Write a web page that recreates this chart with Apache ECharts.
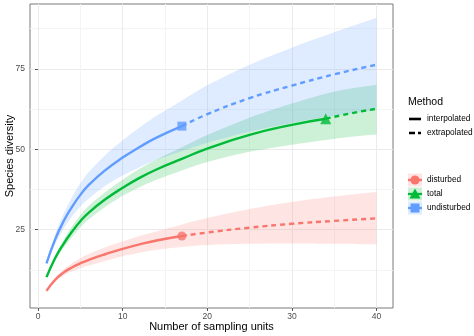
<!DOCTYPE html>
<html>
<head>
<meta charset="utf-8">
<script src="https://cdn.jsdelivr.net/npm/echarts@6/dist/echarts.min.js"></script>
<style>
html,body{margin:0;padding:0;background:#fff;}
#c{width:474px;height:336px;}
</style>
</head>
<body>
<div id="c"></div>
<script>
// ---- data ----
const groups = ['disturbed', 'total', 'undisturbed'];
const methods = ['interpolated', 'extrapolated'];
const xTicks = [0, 10, 20, 30, 40];
const xMinor = [5, 15, 25, 35];
const yTicks = [25, 50, 75];
const yMinor = [12.5, 37.5, 62.5, 87.5];

// disturbed / undisturbed : observed at 17 sampling units
const xInterpDU = [1, 2, 3, 4, 5, 6, 8, 10, 12, 14, 17];
const xExtrapDU = [17, 20, 25, 30, 35, 40];
const xBandDU = [1, 2, 3, 4, 5, 6, 8, 10, 12, 14, 17, 20, 25, 30, 35, 40];
// total : observed at 34 sampling units
const xInterpT = [1, 2, 3, 4, 5, 6, 8, 10, 12, 14, 17, 20, 25, 30, 34];
const xExtrapT = [34, 37, 40];
const xBandT = [1, 2, 3, 4, 5, 6, 8, 10, 12, 14, 17, 20, 25, 30, 34, 37, 40];

const disturbedInterp = [5.9, 9.3, 11.6, 13.2, 14.5, 15.6, 17.4, 19.0, 20.4, 21.6, 23.0];
const disturbedExtrap = [23.0, 24.1, 25.6, 26.8, 27.7, 28.5];
const disturbedLower = [5.6, 8.6, 10.6, 12.0, 13.0, 13.8, 15.3, 16.7, 17.8, 18.7, 19.6, 20.2, 20.6, 20.7, 20.6, 20.4];
const disturbedUpper = [6.2, 10.0, 12.6, 14.5, 16.1, 17.4, 19.5, 21.3, 23.0, 24.4, 26.6, 28.6, 31.4, 33.6, 35.3, 36.7];

const totalInterp = [10.2, 16.0, 20.5, 24.3, 27.6, 30.3, 34.5, 38.0, 41.1, 43.7, 47.0, 50.2, 54.5, 57.6, 59.5];
const totalExtrap = [59.5, 61.2, 62.6];
const totalLower = [9.9, 15.2, 19.3, 22.6, 25.7, 28.2, 32.2, 35.5, 38.2, 40.5, 43.4, 46.0, 49.2, 51.4, 52.9, 53.9, 54.6];
const totalUpper = [10.5, 16.8, 21.7, 26.0, 29.5, 32.4, 36.8, 40.5, 43.9, 46.8, 50.6, 54.4, 59.8, 64.2, 67.3, 68.9, 70.1];

const undisturbedInterp = [14.5, 21.8, 27.5, 32.0, 35.8, 38.9, 43.6, 47.4, 50.7, 53.6, 57.2];
const undisturbedExtrap = [57.2, 60.9, 65.9, 69.8, 73.3, 76.3];
const undisturbedLower = [14.0, 20.3, 25.2, 29.0, 32.2, 34.7, 38.7, 41.8, 44.4, 46.7, 49.4, 52.0, 55.5, 58.2, 60.4, 62.3];
const undisturbedUpper = [15.0, 23.3, 29.8, 35.0, 39.4, 42.9, 48.3, 52.8, 56.8, 60.4, 65.2, 69.9, 76.3, 81.6, 86.4, 90.9];

// observed reference points
const refX = [17, 34, 17];
const refY = [23.0, 59.5, 57.2];

// ---- styling ----
const colors = ['#F8766D', '#00BA38', '#619CFF'];
const bandColors = ['rgba(248,118,109,0.2)', 'rgba(0,186,56,0.2)', 'rgba(97,156,255,0.2)'];
const symbols = ['circle', 'triangle', 'rect'];
const symbolSizes = [9, 11, 9];
const FONT = '"Liberation Sans", Arial, Helvetica, sans-serif';

const zip = (xs, ys) => xs.map((x, i) => [x, ys[i]]);

const sets = [
  {ix: xInterpDU, iy: disturbedInterp, ex: xExtrapDU, ey: disturbedExtrap, bx: xBandDU, lo: disturbedLower, hi: disturbedUpper},
  {ix: xInterpT, iy: totalInterp, ex: xExtrapT, ey: totalExtrap, bx: xBandT, lo: totalLower, hi: totalUpper},
  {ix: xInterpDU, iy: undisturbedInterp, ex: xExtrapDU, ey: undisturbedExtrap, bx: xBandDU, lo: undisturbedLower, hi: undisturbedUpper}
];

const series = [];
sets.forEach((s, g) => {
  const bandData = s.bx.map((x, i) => [x, s.lo[i], s.hi[i]]);
  series.push({
    type: 'custom', name: groups[g] + ' band', silent: true, z: 1, clip: true,
    encode: {x: 0, y: [1, 2]},
    data: bandData,
    renderItem: function (params, api) {
      if (params.dataIndex !== 0) return null;
      const upper = bandData.map(d => api.coord([d[0], d[2]]));
      const lower = bandData.map(d => api.coord([d[0], d[1]])).reverse();
      // duplicate the end points so the smoothed outline keeps straight ends
      const pts = [upper[0]].concat(upper, [upper[upper.length - 1]], [lower[0]], lower, [lower[lower.length - 1]]);
      return {
        type: 'polygon',
        shape: {points: pts, smooth: 0.3},
        style: {fill: bandColors[g], stroke: null}
      };
    }
  });
});
sets.forEach((s, g) => {
  series.push({
    type: 'line', name: groups[g] + ' ' + methods[0],
    data: zip(s.ix, s.iy), symbol: 'none', smooth: 0.5,
    lineStyle: {color: colors[g], width: 2.4}, z: 3
  });
  series.push({
    type: 'line', name: groups[g] + ' ' + methods[1],
    data: zip(s.ex, s.ey), symbol: 'none', smooth: 0.5,
    lineStyle: {color: colors[g], width: 2.4, type: [5, 4]}, z: 3
  });
  series.push({
    type: 'scatter', name: groups[g] + ' observed',
    data: [[refX[g], refY[g]]], symbol: symbols[g], symbolSize: symbolSizes[g],
    itemStyle: {color: colors[g]}, z: 4
  });
});

// ---- legend (graphic) ----
const graphic = [];
const LFS = 8.3;
graphic.push({type: 'text', left: 408, top: 97, style: {text: 'Method', font: '10.5px ' + FONT, fill: '#000'}});
graphic.push({type: 'line', shape: {x1: 409, y1: 119, x2: 421, y2: 119}, style: {stroke: '#000', lineWidth: 2.6}});
graphic.push({type: 'text', left: 427, top: 114.5, style: {text: methods[0], font: LFS + 'px ' + FONT, fill: '#000'}});
graphic.push({type: 'line', shape: {x1: 409, y1: 133, x2: 421, y2: 133}, style: {stroke: '#000', lineWidth: 2.6, lineDash: [6, 3]}});
graphic.push({type: 'text', left: 427, top: 128.5, style: {text: methods[1], font: LFS + 'px ' + FONT, fill: '#000'}});
groups.forEach((name, g) => {
  const cy = 180 + g * 14;
  graphic.push({type: 'rect', shape: {x: 408, y: cy - 6.5, width: 14, height: 13}, style: {fill: bandColors[g]}});
  graphic.push({type: 'line', shape: {x1: 408, y1: cy, x2: 422, y2: cy}, style: {stroke: colors[g], lineWidth: 2.3}});
  if (symbols[g] === 'circle') {
    graphic.push({type: 'circle', shape: {cx: 415, cy: cy, r: 4.6}, style: {fill: colors[g]}});
  } else if (symbols[g] === 'triangle') {
    graphic.push({type: 'polygon', shape: {points: [[415, cy - 5.5], [420.5, cy + 4.5], [409.5, cy + 4.5]]}, style: {fill: colors[g]}});
  } else {
    graphic.push({type: 'rect', shape: {x: 410.5, y: cy - 4.5, width: 9, height: 9}, style: {fill: colors[g]}});
  }
  graphic.push({type: 'text', left: 427, top: cy - 4.5, style: {text: name, font: LFS + 'px ' + FONT, fill: '#000'}});
});

const chart = echarts.init(document.getElementById('c'), null, {renderer: 'canvas'});
chart.setOption({
  animation: false,
  backgroundColor: '#fff',
  textStyle: {fontFamily: FONT},
  grid: {left: 30, top: 4, width: 363, height: 304, show: true, borderColor: '#7a7a7a', borderWidth: 1,
         backgroundColor: 'transparent', containLabel: false, outerBoundsMode: 'none'},
  xAxis: [{
    type: 'value', min: -0.95, max: 41.95,
    name: 'Number of sampling units', nameLocation: 'middle', nameGap: 13, nameMoveOverlap: false,
    nameTextStyle: {fontSize: 11, color: '#000', fontFamily: FONT},
    axisLine: {show: false},
    axisTick: {show: true, length: 3, lineStyle: {color: '#555'}, customValues: xTicks},
    axisLabel: {color: '#4D4D4D', fontSize: 8.5, margin: 4, customValues: xTicks, fontFamily: FONT},
    splitLine: {show: true, lineStyle: {color: '#EBEBEB', width: 1}}
  }, {
    type: 'value', min: -0.95, max: 41.95, position: 'bottom',
    axisLine: {show: false},
    axisTick: {show: false, customValues: xMinor},
    axisLabel: {show: false, customValues: xMinor},
    splitLine: {show: true, lineStyle: {color: '#F4F4F4', width: 1}}
  }],
  yAxis: [{
    type: 'value', min: 0.6, max: 95.2,
    name: 'Species diversity', nameLocation: 'middle', nameGap: 15, nameMoveOverlap: false,
    nameTextStyle: {fontSize: 11, color: '#000', fontFamily: FONT},
    axisLine: {show: false},
    axisTick: {show: true, length: 3, lineStyle: {color: '#555'}, customValues: yTicks},
    axisLabel: {color: '#4D4D4D', fontSize: 8.5, margin: 5, customValues: yTicks, fontFamily: FONT},
    splitLine: {show: true, lineStyle: {color: '#EBEBEB', width: 1}}
  }, {
    type: 'value', min: 0.6, max: 95.2, position: 'left',
    axisLine: {show: false},
    axisTick: {show: false, customValues: yMinor},
    axisLabel: {show: false, customValues: yMinor},
    splitLine: {show: true, lineStyle: {color: '#F4F4F4', width: 1}}
  }],
  series: series,
  graphic: graphic
});
</script>
</body>
</html>
